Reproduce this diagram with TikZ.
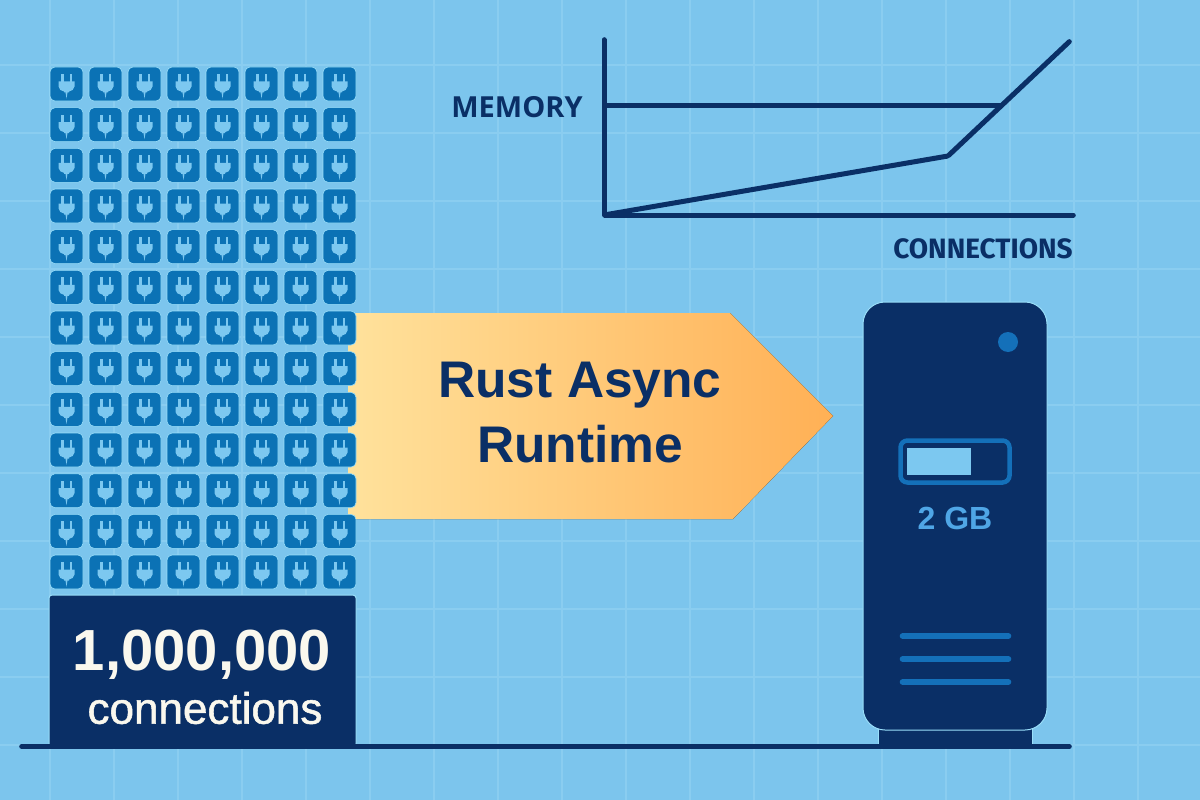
\documentclass[tikz,border=0pt]{standalone}
\usepackage{fontspec}
\setmainfont{Liberation Sans}
\newfontfamily\medfont[FakeBold=1.2]{Liberation Sans}
\newfontfamily\memoryfont{Open Sans}
\newfontfamily\axisfont{Fira Sans}
\usepackage{tikz}
\usetikzlibrary{positioning, calc}

\definecolor{skybg}{HTML}{7CC5ED}
\definecolor{gridblue}{HTML}{8ACDF0}
\definecolor{navy}{HTML}{0A2F66}
\definecolor{tileblue}{HTML}{0B72B5}
\definecolor{plugblue}{HTML}{7CC8F0}
\definecolor{halo}{HTML}{9ADFFA}
\definecolor{midblue}{HTML}{1470B9}
\definecolor{gblabel}{HTML}{4FA6E6}
\definecolor{cream}{HTML}{FAF8EE}
\definecolor{arrowlight}{HTML}{FFE29C}
\definecolor{arrowmid}{HTML}{FFBC5C}
\definecolor{arrowdark}{HTML}{FFB055}

\tikzset{
  tile/.style={draw=halo,line width=0.6pt,fill=tileblue,rounded corners=5pt,
               minimum width=33pt,minimum height=34pt,inner sep=0pt},
  plug/.pic={
    \fill[plugblue] (-5.2,-10) rectangle (-3,-2);
    \fill[plugblue] (3,-10) rectangle (5.2,-2);
    \fill[plugblue] (-8,-2.5) -- (8,-2.5) -- (8,2.5) .. controls (8,5.5) and (5,7) .. (2.5,7.5)
        -- (2.5,8.5) -- (1,8.5) -- (0,14.5) -- (-1,8.5) -- (-2.5,8.5) -- (-2.5,7.5) .. controls (-5,7) and (-8,5.5) .. (-8,2.5) -- cycle;
  },
  chartline/.style={draw=navy,line width=5pt,line cap=round,line join=round},
  ventline/.style={draw=midblue,line width=6pt,line cap=round},
}

\begin{document}
\begin{tikzpicture}[x=1pt,y=-1pt]
\useasboundingbox (0,0) rectangle (1200,800);
\fill[skybg] (0,0) rectangle (1200,800);

% grid
\foreach \gx in {-14,50,...,1200}
    \draw[gridblue,line width=1.2pt] (\gx,0) -- (\gx,800);
\foreach \gy in {-3,65,...,800}
    \draw[gridblue,line width=1.2pt] (0,\gy) -- (1200,\gy);

% arrow
\fill[left color=arrowlight,middle color=arrowmid,right color=arrowdark]
    (348,313) -- (730,313) -- (833,416) -- (733,519) -- (348,519) -- cycle;
\node (runtime) at (580,413) [align=center,text=navy,font=\fontsize{51.5}{65}\selectfont\bfseries] {Rust Async\\Runtime};

% connections
\foreach \row in {0,...,12}
    \foreach \col in {0,...,7} {
        \node[tile] (t\row-\col) at ({66.5+39*\col},{84+40.67*\row}) {};
        \pic at (t\row-\col) {plug};
    }

\node (countbox) at (202.5,671) [draw=halo,line width=1pt,fill=navy,minimum width=307pt,minimum height=152pt,
    rounded corners=3pt,inner sep=0pt] {};
\node (count) at (202,655) [text=cream,font=\fontsize{58}{60}\selectfont\bfseries] {1,000,000};
\node (countlabel) at (205,708) [text=cream,font=\medfont\fontsize{44}{46}\selectfont] {connections};

% chart
\begin{scope}[every node/.style={inner sep=0pt}]
    \node (origin) at (604,215) {};
    \node (ytop) at (604,39) {};
    \node (xend) at (1074,215) {};
    \node (ymark) at (604,105) {};
    \node (cross) at (1002,105) {};
    \node (knee) at (948,156) {};
    \node (curveend) at (1070,41) {};
\end{scope}
\draw[chartline] (ytop) -- (origin) -- (xend);
\draw[chartline] (ymark) -- (cross);
\draw[chartline] (origin) -- (knee) -- (curveend);
\node (memory) at (517,107) [text=navy,font=\memoryfont\fontsize{29}{32}\selectfont\bfseries] {MEMORY};
\node (connections) at (983,249) [text=navy,font=\axisfont\fontsize{28}{32}\selectfont\bfseries] {CONNECTIONS};

% server
\node (feet) at (955,735) [draw=halo,line width=1pt,fill=navy,minimum width=154pt,minimum height=24pt,inner sep=0pt] {};
\node (server) at (955,516) [draw=halo,line width=1pt,fill=navy,minimum width=184pt,minimum height=428pt,
    rounded corners=22pt,inner sep=0pt] {};
\fill[navy] (feet.north west) ++(0.5,-3) rectangle ($(feet.north east)+(-0.5,3)$);
\node (led) at (1008,342) [circle,fill=midblue,minimum size=20pt,inner sep=0pt] {};
\node (gauge) at (955,461.5) [draw=midblue,line width=4.5pt,rounded corners=7pt,minimum width=109pt,minimum height=42pt,inner sep=0pt] {};
\node (gaugefill) at (939,461.5) [fill=plugblue,minimum width=64pt,minimum height=27pt,inner sep=0pt] {};
\node (gb) at (955,518) [text=gblabel,font=\fontsize{32}{35}\selectfont\bfseries] {2 GB};
\foreach \vy/\vn in {636/a,659/b,682/c} {
    \node (vent\vn l) at (902,\vy) [inner sep=0pt] {};
    \node (vent\vn r) at (1009,\vy) [inner sep=0pt] {};
    \draw[ventline] (vent\vn l) -- (vent\vn r);
}

% floor
\node (base) at (21,746.5) [inner sep=0pt] {};
\node (baseend) at (1070,746.5) [inner sep=0pt] {};
\draw[chartline] (base) -- (baseend);
\end{tikzpicture}
\end{document}
